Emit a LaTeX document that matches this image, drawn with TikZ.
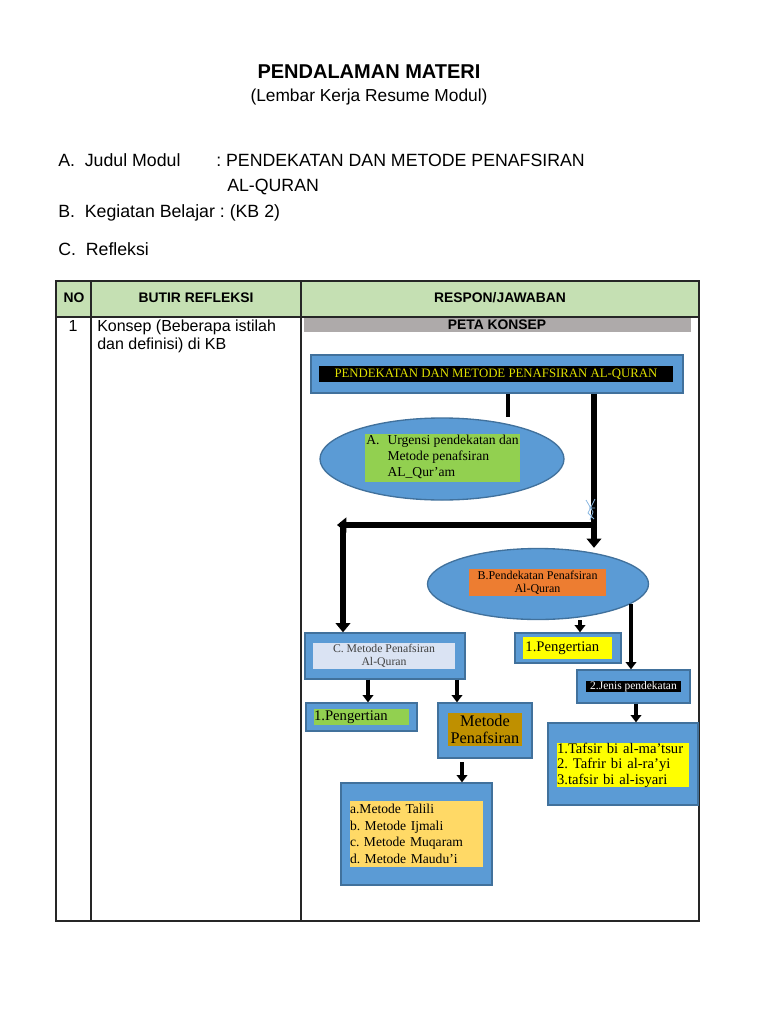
\documentclass[tikz,border=0pt]{standalone}
\usepackage{fontspec}
\setmainfont{Liberation Serif}
\newfontfamily\arialf{Liberation Sans}
\usetikzlibrary{arrows.meta,shapes.geometric,calc}
\definecolor{bluefill}{HTML}{5B9BD5}
\definecolor{blueline}{HTML}{41719C}
\definecolor{hdrgreen}{HTML}{C5E0B3}
\definecolor{bargray}{HTML}{AEAAAA}
\definecolor{agreen}{HTML}{92D050}
\definecolor{borange}{HTML}{ED7D31}
\definecolor{clight}{HTML}{DAE3F3}
\definecolor{mgold}{HTML}{BF9000}
\definecolor{lgold}{HTML}{FFD966}
\definecolor{tyellow}{HTML}{FFFF00}
\definecolor{titleyellow}{HTML}{E0E000}
\definecolor{cgray}{HTML}{404040}
\tikzset{
  bluebox/.style={draw=blueline, line width=1pt, fill=bluefill, inner sep=0pt},
  blueell/.style={ellipse, draw=blueline, line width=1pt, fill=bluefill, inner sep=0pt},
  innerbox/.style={inner sep=0pt, font=\fontsize{10}{12}\selectfont},
  hd/.style={font=\arialf\fontsize{13.3}{16}\selectfont, anchor=base west, inner sep=0pt},
  th/.style={font=\arialf\bfseries\fontsize{10.4}{12}\selectfont, inner sep=0pt},
  rowtext/.style={font=\arialf\fontsize{12}{13.5}\selectfont, anchor=base west, inner sep=0pt},
  fatarrow/.style={line width=4.5pt, -{Triangle[length=7pt,width=11pt]}},
  thinarrow/.style={line width=2.8pt, -{Triangle[length=5.5pt,width=8pt]}},
  tline/.style={line width=0.8pt, draw=black!85}
}
\begin{document}
\frenchspacing
\begin{tikzpicture}[x=0.75pt,y=-0.75pt]
\useasboundingbox (0,0) rectangle (768,1024);
% header texts
\node[font=\arialf\bfseries\fontsize{15}{17}\selectfont, anchor=base] (title) at (369,79) {PENDALAMAN MATERI};
\node[font=\arialf\fontsize{13}{16}\selectfont, anchor=base] (sub) at (369,102) {(Lembar Kerja Resume Modul)};
\node[hd] (ja) at (58,166) {A.\ \ Judul Modul};
\node[hd] (jb) at (216,166) {: PENDEKATAN DAN METODE PENAFSIRAN};
\node[hd] (jc) at (227,191) {AL-QURAN};
\node[hd] (kb) at (58,217) {B.\ \ Kegiatan Belajar : (KB 2)};
\node[hd] (rf) at (58,255) {C.\ \ Refleksi};
% table
\fill[hdrgreen] (56,281) rectangle (699,317);
\draw[tline] (56,281) rectangle (699,921);
\draw[tline] (56,317) -- (699,317);
\draw[tline] (91,281) -- (91,921);
\draw[tline] (301,281) -- (301,921);
\node[th] (hno) at (74,298) {NO};
\node[th] (hbr) at (196,298) {BUTIR REFLEKSI};
\node[th] (hrj) at (500,298) {RESPON/JAWABAN};
\node[font=\arialf\fontsize{12}{13.5}\selectfont, anchor=base, inner sep=0pt] (one) at (73,331) {1};
\node[rowtext] (konsep1) at (97,331) {Konsep (Beberapa istilah};
\node[rowtext] (konsep2) at (97,349) {dan definisi) di KB};
\fill[bargray] (304,318) rectangle (691,332);
\node[th] (peta) at (497,325) {PETA KONSEP};
% diagram
\node[bluebox, minimum width=279pt, minimum height=28.5pt] (main) at (497,374) {};
\node[fill=black, inner sep=0pt, minimum width=265.5pt, minimum height=12pt, text=titleyellow, font=\fontsize{9.6}{11}\selectfont] (maint) at (496,374) {PENDEKATAN DAN METODE PENAFSIRAN AL-QURAN};
\node[blueell, minimum width=183pt, minimum height=61.5pt] (A) at (442,459) {};
\node[innerbox, fill=agreen, minimum width=116.25pt, minimum height=35.25pt, font=\fontsize{10.2}{12}\selectfont] (At) at (442.5,457.5) {\begin{tabular}{@{}l@{\hspace{6pt}}l@{}}A. & Urgensi pendekatan dan\\ & Metode penafsiran\\ & AL\_Qur'am\end{tabular}};
\node[blueell, minimum width=165.75pt, minimum height=53.25pt] (B) at (538,584) {};
\node[innerbox, fill=borange, minimum width=102.75pt, minimum height=20.25pt, font=\fontsize{9}{10}\selectfont, align=center] (Bt) at (537.5,582.5) {B.Pendekatan Penafsiran\\Al-Quran};
\node[bluebox, minimum width=120pt, minimum height=34.5pt] (C) at (385,656) {};
\node[innerbox, fill=clight, minimum width=106.5pt, minimum height=19.5pt, font=\fontsize{8.8}{10}\selectfont, text=cgray, align=center] (Ct) at (384,656) {C. Metode Penafsiran\\Al-Quran};
\node[bluebox, minimum width=83.25pt, minimum height=21pt] (P1) at (361.5,717) {};
\node[innerbox, fill=agreen, minimum width=71.25pt, minimum height=12pt, font=\fontsize{11}{12}\selectfont, text width=71.25pt, align=left] (P1t) at (361.5,717) {1.Pengertian};
\node[bluebox, minimum width=70.5pt, minimum height=41.25pt] (M) at (485,730.5) {};
\node[innerbox, fill=mgold, minimum width=55.5pt, minimum height=24.75pt, font=\fontsize{12.2}{12.8}\selectfont, align=center] (Mt) at (485,729.5) {Metode\\Penafsiran};
\node[bluebox, minimum width=113.25pt, minimum height=76.5pt] (L) at (416.5,834) {};
\node[innerbox, fill=lgold, minimum width=99.75pt, minimum height=49.5pt, text width=99.75pt, font=\fontsize{10.2}{12.4}\selectfont, align=left] (Lt) at (416.5,834) {a.Metode Talili\\b. Metode Ijmali\\c. Metode Muqaram\\d. Metode Maudu'i};
\node[bluebox, minimum width=79.5pt, minimum height=22.5pt] (P2) at (568,648) {};
\node[innerbox, fill=tyellow, minimum width=66.75pt, minimum height=16.5pt, text width=66.75pt, font=\fontsize{11}{12}\selectfont, align=left] (P2t) at (567.5,648) {\,1.Pengertian};
\node[bluebox, minimum width=84.75pt, minimum height=24.75pt] (J) at (633.5,686.5) {};
\node[innerbox, fill=black, text=white, minimum width=71.25pt, minimum height=8.25pt, font=\fontsize{8.6}{9}\selectfont] (Jt) at (633.5,686.5) {2.Jenis pendekatan};
\node[bluebox, minimum width=112.5pt, minimum height=61.5pt] (T) at (623,764) {};
\node[innerbox, fill=tyellow, minimum width=99pt, minimum height=33pt, text width=99pt, font=\fontsize{11}{11.6}\selectfont, align=left] (Tt) at (623,765) {1.Tafsir bi al-ma'tsur\\2. Tafrir bi al-ra'yi\\3.tafsir bi al-isyari};
% connectors
\draw[line width=2.6pt] (main.south -| 508,0) -- (A.north -| 508,0);
\draw[fatarrow] (main.south -| 594,0) -- (B.north -| 594,0);
\coordinate (turn) at (597,525);
\draw[fatarrow] (turn) -- (337,525);
\draw[fatarrow] (343,522) -- (C.north -| 343,0);
\draw[thinarrow] (B.south -| 580,0) -- (P2.north -| 580,0);
\draw[thinarrow] (631,604) -- (J.north -| 631,0);
\draw[thinarrow] (C.south -| 368,0) -- (P1.north -| 368,0);
\draw[thinarrow] (C.south -| 457,0) -- (M.north -| 457,0);
\draw[thinarrow] (462,762) -- (L.north -| 462,0);
\draw[thinarrow] (J.south -| 636,0) -- (T.north -| 636,0);
% small blue scribble
\draw[bluefill!70, line width=0.6pt] (586,500) -- (593,512) -- (590,520) (595,499) -- (588,513) -- (594,519) (589,508) -- (595,508);
\end{tikzpicture}
\end{document}
